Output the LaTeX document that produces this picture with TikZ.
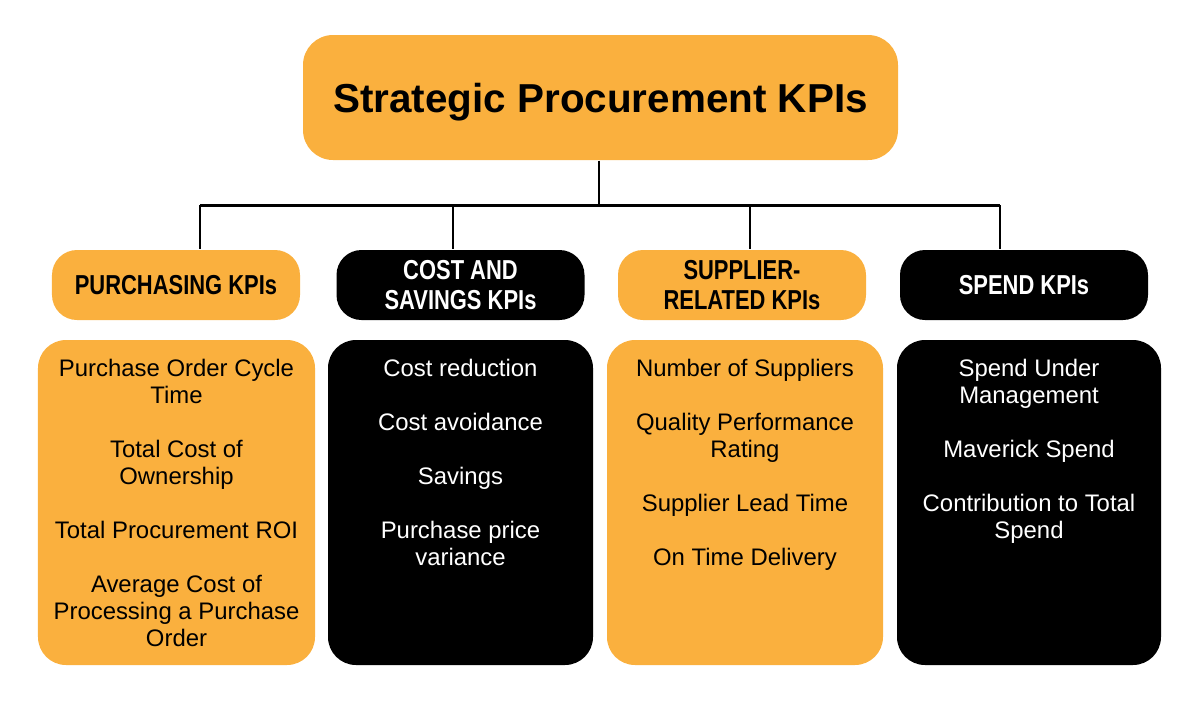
\documentclass[tikz,border=0pt]{standalone}
\usepackage{fontspec}
\setmainfont{Liberation Sans}
\newfontfamily\catfont[FakeStretch=0.8]{Liberation Sans}
\usetikzlibrary{positioning}
\definecolor{kpiorange}{RGB}{250,176,62}

\begin{document}
\begin{tikzpicture}[
    head/.style={rectangle, rounded corners=0.3cm, fill=kpiorange, minimum width=5.95cm, minimum height=1.25cm, text depth=0pt, font=\fontsize{11.5}{13}\selectfont\bfseries},
    cat/.style={rectangle, rounded corners=0.25cm, minimum width=2.48cm, minimum height=0.7cm, inner sep=0pt, align=center, font=\catfont\fontsize{7.8}{8.5}\selectfont\bfseries},
    catorange/.style={cat, fill=kpiorange, text=black},
    catblack/.style={cat, fill=black, text=white},
    list/.style={rectangle, rounded corners=0.28cm, minimum height=3.25cm},
    listtext/.style={anchor=north, inner sep=0pt, align=center, font=\fontsize{6.8}{7.7}\selectfont},
    link/.style={line width=0.85pt},
]
\useasboundingbox (0,0) rectangle (12,7);

\node[head] (top) at (6.005,6.025) {Strategic Procurement KPIs};

\node[catorange] (purch) at (1.76,4.15) {PURCHASING KPIs};
\node[catblack] (cost) at (4.605,4.15) {COST AND\\SAVINGS KPIs};
\node[catorange] (supp) at (7.42,4.15) {SUPPLIER-\\RELATED KPIs};
\node[catblack] (spend) at (10.24,4.15) {SPEND KPIs};

% connectors
\coordinate (bus) at (5.99,4.95);
\draw[link] (top.south -| bus) -- (bus);
\draw[link] (2.00,4.95) -- (10.00,4.95);
\foreach \n/\x in {purch/2.00, cost/4.53, supp/7.50, spend/10.00}
    \draw[link] (\x,4.95) -- (\n.north -| \x,0);

% lists
\node[list, fill=kpiorange, minimum width=2.77cm] (purchlist) at (1.765,1.975) {};
\node[list, fill=black, minimum width=2.65cm] (costlist) at (4.605,1.975) {};
\node[list, fill=kpiorange, minimum width=2.76cm] (supplist) at (7.45,1.975) {};
\node[list, fill=black, minimum width=2.64cm] (spendlist) at (10.29,1.975) {};

\node[listtext] (purchtxt) at ([yshift=-0.19cm]purchlist.north)
    {Purchase Order Cycle\\Time\\[7.7pt]Total Cost of\\Ownership\\[7.7pt]Total Procurement ROI\\[7.7pt]Average Cost of\\Processing a Purchase\\Order};
\node[listtext, text=white] (costtxt) at ([yshift=-0.19cm]costlist.north)
    {Cost reduction\\[7.7pt]Cost avoidance\\[7.7pt]Savings\\[7.7pt]Purchase price\\variance};
\node[listtext] (supptxt) at ([yshift=-0.19cm]supplist.north)
    {Number of Suppliers\\[7.7pt]Quality Performance\\Rating\\[7.7pt]Supplier Lead Time\\[7.7pt]On Time Delivery};
\node[listtext, text=white] (spendtxt) at ([yshift=-0.19cm]spendlist.north)
    {Spend Under\\Management\\[7.7pt]Maverick Spend\\[7.7pt]Contribution to Total\\Spend};

\end{tikzpicture}
\end{document}
